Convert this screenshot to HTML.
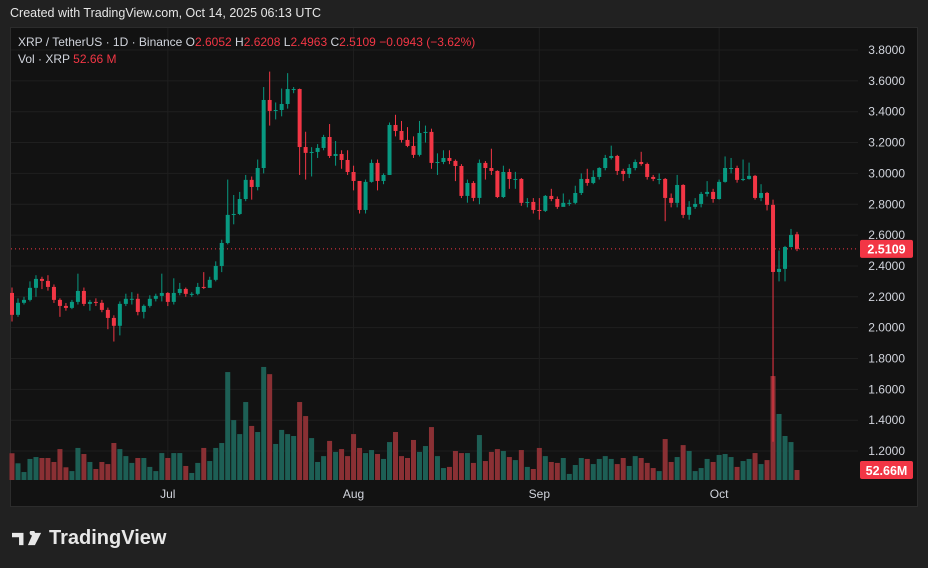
<!DOCTYPE html>
<html><head><meta charset="utf-8"><style>
html,body{margin:0;padding:0;background:#212121;}
body{width:928px;height:568px;overflow:hidden;position:relative;font-family:"Liberation Sans",sans-serif;}
#hdr{position:absolute;left:10px;top:6px;color:#e6e6e6;font-size:12.5px;}
#panel{position:absolute;left:10px;top:27px;width:908px;height:480px;background:#121212;border:1px solid #2c2c2c;box-sizing:border-box;}
#logo{position:absolute;left:12px;top:527px;color:#e8e8e8;font-size:20px;font-weight:bold;display:flex;align-items:center;gap:7px;}
</style></head><body>
<div id="hdr">Created with TradingView.com, Oct 14, 2025 06:13 UTC</div>
<div id="panel"></div>
<svg id="chart" width="928" height="568" style="position:absolute;left:0;top:0" xmlns="http://www.w3.org/2000/svg"></svg>
<div id="logo"><svg width="30" height="16" viewBox="0 0 34 18"><path d="M0 2h13v14H8V7H0z M20 2a3 3 0 1 1 0 .1z" fill="#e8e8e8"/><path d="M24 2h9l-7 14h-8z" fill="#e8e8e8"/></svg><span>TradingView</span></div>
<script>
const opens=[2.225,2.083,2.161,2.180,2.258,2.316,2.303,2.264,2.180,2.141,2.128,2.167,2.238,2.154,2.167,2.161,2.115,2.063,2.012,2.154,2.187,2.187,2.102,2.141,2.187,2.206,2.225,2.167,2.225,2.251,2.219,2.219,2.264,2.258,2.310,2.400,2.549,2.731,2.737,2.834,2.958,2.912,3.035,3.476,3.405,3.411,3.450,3.547,3.547,3.171,3.133,3.139,3.165,3.236,3.113,3.126,3.087,3.009,2.951,2.763,2.945,3.068,2.951,2.990,3.314,3.275,3.217,3.178,3.120,3.262,3.269,3.068,3.074,3.100,3.081,3.048,2.854,2.938,2.841,3.068,3.035,3.016,2.847,3.009,2.964,2.964,2.809,2.815,2.763,2.757,2.854,2.834,2.783,2.809,2.809,2.873,2.964,2.938,2.977,3.035,3.100,3.113,3.016,2.996,3.035,3.074,3.061,2.977,2.964,2.964,2.841,2.809,2.925,2.731,2.783,2.802,2.867,2.880,2.834,2.945,3.035,3.035,2.958,2.964,2.984,2.841,2.873,2.796,2.361,2.381,2.523,2.6052];
const closes=[2.083,2.161,2.180,2.258,2.316,2.303,2.264,2.180,2.141,2.128,2.167,2.238,2.154,2.167,2.161,2.115,2.063,2.012,2.154,2.187,2.187,2.102,2.141,2.187,2.206,2.225,2.167,2.225,2.251,2.219,2.219,2.264,2.258,2.310,2.400,2.549,2.731,2.737,2.834,2.958,2.912,3.035,3.476,3.405,3.411,3.450,3.547,3.547,3.171,3.133,3.139,3.165,3.236,3.113,3.126,3.087,3.009,2.951,2.763,2.945,3.068,2.951,2.990,3.314,3.275,3.217,3.178,3.120,3.262,3.269,3.068,3.074,3.100,3.081,3.048,2.854,2.938,2.841,3.068,3.035,3.016,2.847,3.009,2.964,2.964,2.809,2.815,2.763,2.757,2.854,2.834,2.783,2.809,2.809,2.873,2.964,2.938,2.977,3.035,3.100,3.113,3.016,2.996,3.035,3.074,3.061,2.977,2.964,2.964,2.841,2.809,2.925,2.731,2.783,2.802,2.867,2.880,2.834,2.945,3.035,3.035,2.958,2.964,2.984,2.841,2.873,2.796,2.361,2.381,2.523,2.601,2.5109];
const highs=[2.26,2.19,2.20,2.30,2.34,2.33,2.34,2.28,2.19,2.16,2.18,2.35,2.26,2.18,2.19,2.18,2.13,2.08,2.17,2.22,2.23,2.22,2.15,2.21,2.22,2.35,2.23,2.32,2.29,2.26,2.23,2.29,2.36,2.33,2.43,2.57,2.96,2.86,2.88,2.99,2.98,3.09,3.56,3.66,3.46,3.55,3.65,3.56,3.55,3.27,3.17,3.19,3.25,3.32,3.21,3.15,3.15,3.05,2.95,2.96,3.09,3.09,3.00,3.33,3.38,3.34,3.30,3.24,3.34,3.31,3.29,3.13,3.15,3.15,3.09,3.06,2.96,2.95,3.09,3.08,3.16,3.02,3.05,3.03,3.01,2.97,2.84,2.84,2.84,2.86,2.90,2.85,2.87,2.83,2.92,3.00,3.03,3.02,3.04,3.12,3.18,3.12,3.03,3.06,3.09,3.14,3.07,2.99,3.00,2.97,2.87,2.99,2.93,2.82,2.84,2.88,2.95,2.90,2.96,3.11,3.10,3.05,3.09,3.07,2.99,2.93,2.88,2.83,2.50,2.53,2.64,2.6208];
const lows=[2.04,2.07,2.15,2.17,2.20,2.25,2.24,2.16,2.07,2.11,2.12,2.15,2.14,2.11,2.14,2.10,1.99,1.91,1.95,2.14,2.15,2.08,2.06,2.13,2.17,2.17,2.14,2.15,2.21,2.20,2.20,2.21,2.25,2.26,2.30,2.36,2.54,2.67,2.73,2.82,2.83,2.89,3.00,3.31,3.35,3.37,3.42,3.52,2.99,2.96,2.98,3.10,3.15,3.10,3.05,3.03,2.99,2.89,2.74,2.74,2.94,2.89,2.93,2.99,3.24,3.20,3.17,3.10,3.11,3.20,3.03,2.99,3.06,3.06,2.95,2.84,2.81,2.82,2.80,2.96,2.99,2.84,2.84,2.90,2.90,2.79,2.78,2.74,2.70,2.75,2.82,2.77,2.79,2.79,2.80,2.86,2.92,2.93,2.96,3.02,3.09,2.99,2.95,2.97,3.02,3.05,2.96,2.95,2.93,2.69,2.78,2.78,2.71,2.70,2.77,2.78,2.85,2.81,2.83,2.94,3.00,2.94,2.95,2.96,2.83,2.82,2.76,1.26,2.30,2.30,2.52,2.4963];
const volumes=[141,88,42,111,121,116,116,95,163,67,47,169,137,95,58,95,84,195,163,126,90,116,116,69,47,142,116,142,142,74,37,90,169,100,169,195,569,316,242,411,285,253,596,558,190,264,242,232,411,337,221,95,126,206,148,163,126,242,169,142,158,137,111,200,253,126,116,211,148,179,279,126,63,69,153,142,142,90,237,100,148,163,153,121,105,158,69,58,169,126,95,90,116,32,79,116,111,84,111,126,111,84,116,74,126,116,90,63,47,216,95,121,184,153,47,63,111,95,132,137,121,69,100,111,142,84,105,548,348,232,200,52.66];
const priceTicks=[3.8,3.6,3.4,3.2,3.0,2.8,2.6,2.4,2.2,2.0,1.8,1.6,1.4,1.2];
const monthLabels=["Jul","Aug","Sep","Oct"];
const monthIndex=[26,57,88,118];

const svg=document.getElementById('chart');
const NS="http://www.w3.org/2000/svg";
const yOf=p=>50+(3.8-p)*154.25;
const xOf=i=>12+i*(797-12)/(closes.length-1);
const volBase=480, volScale=0.1897;
const yVol=v=>volBase-v*volScale;
const UP="#089981", DN="#f23645", UPV="#1d5f55", DNV="#8a3034";
function mk(tag,attrs){const e=document.createElementNS(NS,tag);for(const k in attrs)e.setAttribute(k,attrs[k]);svg.appendChild(e);return e;}

priceTicks.forEach(p=>{
  const g=mk('line',{x1:11,x2:858,y1:yOf(p),y2:yOf(p),stroke:'#1f1f1f','stroke-width':1});
  
  
  const t=mk('text',{x:905,y:yOf(p)+4,fill:'#d1d4dc','font-size':12,'text-anchor':'end','font-family':'Liberation Sans'});
  t.textContent=p.toFixed(4);
  
  
});
monthLabels.forEach((m,k)=>{
  const x=xOf(monthIndex[k]);
  const g=mk('line',{x1:x,x2:x,y1:28,y2:480,stroke:'#1f1f1f','stroke-width':1});
  
  
  const t=mk('text',{x:x,y:498,fill:'#d1d4dc','font-size':12,'text-anchor':'middle','font-family':'Liberation Sans'});
  t.textContent=m;
  
  
});
const lp=closes[closes.length-1];
const pl=mk('line',{x1:11,x2:858,y1:yOf(lp),y2:yOf(lp),stroke:DN,'stroke-width':1,'stroke-dasharray':'1,3'});



volumes.forEach((v,i)=>{
  const up=closes[i]>=opens[i];
  const r=mk('rect',{x:xOf(i)-2.5,y:yVol(v),width:5,height:volBase-yVol(v),fill:up?UPV:DNV});
  
  
});
closes.forEach((c,i)=>{
  const o=opens[i],up=c>=o,col=up?UP:DN,x=xOf(i);
  const w=mk('line',{x1:x,x2:x,y1:yOf(highs[i]),y2:yOf(lows[i]),stroke:col,'stroke-width':1});
  
  
  const top=yOf(Math.max(o,c)),bot=yOf(Math.min(o,c));
  const b=mk('rect',{x:x-2,y:top,width:4,height:Math.max(1,bot-top),fill:col});
  
  
});
const lb=mk('rect',{x:860,y:yOf(lp)-9,width:53,height:18,rx:2,fill:DN});


const lt=mk('text',{x:886.5,y:yOf(lp)+4.5,fill:'#fff','font-size':12.5,'font-weight':'bold','text-anchor':'middle','font-family':'Liberation Sans'});
lt.textContent=lp.toFixed(4);


const vb=mk('rect',{x:860,y:461,width:53,height:18,rx:2,fill:DN});


const vt=mk('text',{x:886.5,y:475,fill:'#fff','font-size':12.5,'font-weight':'bold','text-anchor':'middle','font-family':'Liberation Sans'});
vt.textContent=volumes[volumes.length-1].toFixed(2)+'M';


const lg=mk('text',{x:18,y:46,'font-size':12,'font-family':'Liberation Sans',fill:'#d1d4dc'});


lg.innerHTML='XRP / TetherUS · 1D · Binance <tspan fill="#d1d4dc">O</tspan><tspan fill="#f23645">2.6052</tspan> <tspan fill="#d1d4dc">H</tspan><tspan fill="#f23645">2.6208</tspan> <tspan fill="#d1d4dc">L</tspan><tspan fill="#f23645">2.4963</tspan> <tspan fill="#d1d4dc">C</tspan><tspan fill="#f23645">2.5109 −0.0943 (−3.62%)</tspan>';
const vl=mk('text',{x:18,y:63,'font-size':12,'font-family':'Liberation Sans',fill:'#d1d4dc'});


vl.innerHTML='Vol · XRP <tspan fill="#f23645">52.66 M</tspan>';
</script>
</body></html>
